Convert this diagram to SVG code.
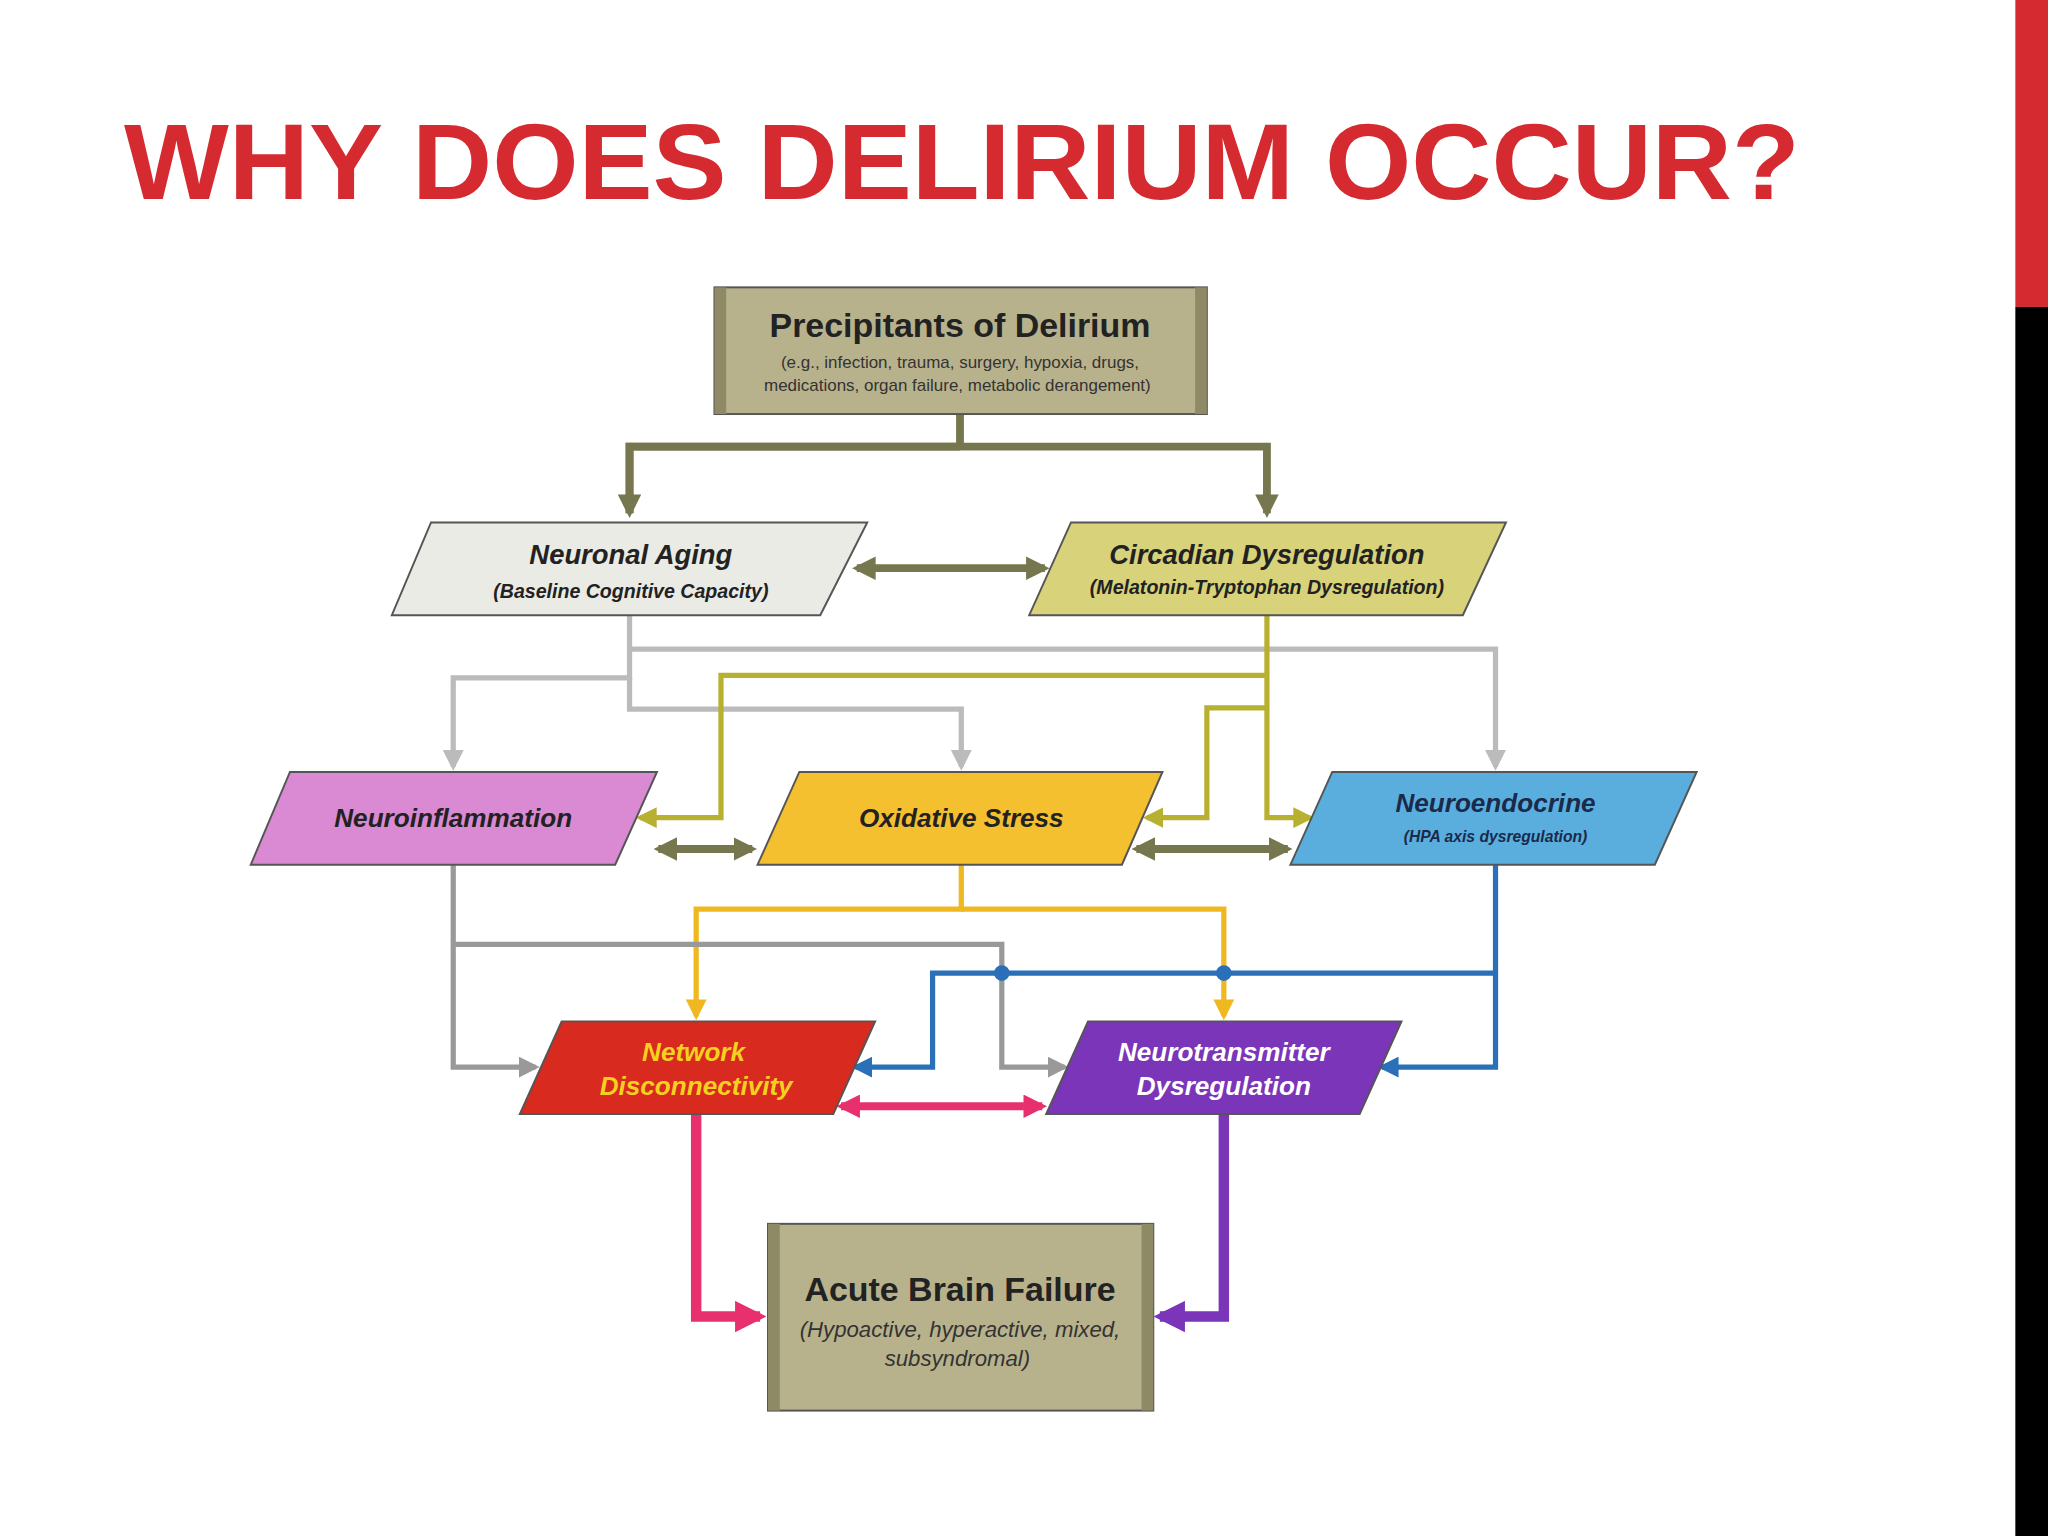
<svg xmlns="http://www.w3.org/2000/svg" width="2048" height="1536" viewBox="0 0 2048 1536">
<defs>
<style>
.t{font-family:"Liberation Sans",Arial,sans-serif;text-anchor:middle}
.b{font-weight:bold}.i{font-style:italic}
.n{stroke:#555;stroke-width:1.5}
.c{fill:none;stroke-linejoin:miter}
</style>
<marker id="ao" viewBox="0 0 10 10" refX="8" refY="5" markerWidth="3" markerHeight="3" orient="auto-start-reverse"><path d="M0,0L10,5L0,10z" fill="#77774f"/></marker>
<marker id="ag" viewBox="0 0 10 10" refX="8" refY="5" markerWidth="4" markerHeight="4" orient="auto"><path d="M0,0L10,5L0,10z" fill="#bbb"/></marker>
<marker id="ad" viewBox="0 0 10 10" refX="8" refY="5" markerWidth="4" markerHeight="4" orient="auto"><path d="M0,0L10,5L0,10z" fill="#999"/></marker>
<marker id="ay" viewBox="0 0 10 10" refX="8" refY="5" markerWidth="4" markerHeight="4" orient="auto"><path d="M0,0L10,5L0,10z" fill="#b8b030"/></marker>
<marker id="ar" viewBox="0 0 10 10" refX="8" refY="5" markerWidth="4" markerHeight="4" orient="auto"><path d="M0,0L10,5L0,10z" fill="#f0b820"/></marker>
<marker id="ab" viewBox="0 0 10 10" refX="8" refY="5" markerWidth="4" markerHeight="4" orient="auto"><path d="M0,0L10,5L0,10z" fill="#2a70b8"/></marker>
<marker id="ap" viewBox="0 0 10 10" refX="8" refY="5" markerWidth="3" markerHeight="3" orient="auto-start-reverse"><path d="M0,0L10,5L0,10z" fill="#e8306e"/></marker>
<marker id="av" viewBox="0 0 10 10" refX="8" refY="5" markerWidth="3" markerHeight="3" orient="auto"><path d="M0,0L10,5L0,10z" fill="#7a35b8"/></marker>
</defs>
<rect width="2048" height="1536" fill="#fff"/>
<g transform="scale(1.30612)">
<rect x="1543" y="0" width="25" height="235" fill="#d42a30"/>
<rect x="1543" y="235" width="25" height="941" fill="#000"/>
<text x="95" y="152" font-family="Liberation Sans,Arial,sans-serif" font-weight="bold" font-size="82" fill="#d42a30" textLength="1283" lengthAdjust="spacingAndGlyphs">WHY DOES DELIRIUM OCCUR?</text>

<g id="connectors">
<path class="c" d="M735,317V342H482V393M735,342H970V393" stroke="#77774f" stroke-width="6" marker-end="url(#ao)"/>
<path class="c" d="M735,342H482V393" stroke="#77774f" stroke-width="6" marker-end="url(#ao)"/>
<line x1="656" y1="435" x2="800" y2="435" stroke="#77774f" stroke-width="6" marker-start="url(#ao)" marker-end="url(#ao)"/>
<line x1="504" y1="650" x2="576" y2="650" stroke="#77774f" stroke-width="6" marker-start="url(#ao)" marker-end="url(#ao)"/>
<line x1="870" y1="650" x2="986" y2="650" stroke="#77774f" stroke-width="6" marker-start="url(#ao)" marker-end="url(#ao)"/>
<g stroke="#bbb" stroke-width="4" class="c">
<path d="M482,471V497H1145V587" marker-end="url(#ag)"/>
<path d="M482,497V519H347V587" marker-end="url(#ag)"/>
<path d="M482,519V543H736V587" marker-end="url(#ag)"/>
</g>
<g stroke="#b8b030" stroke-width="4" class="c">
<path d="M970,471V626H1003" marker-end="url(#ay)"/>
<path d="M970,517H552V626H490" marker-end="url(#ay)"/>
<path d="M970,542H924V626H878" marker-end="url(#ay)"/>
</g>
<g stroke="#f0b820" stroke-width="4" class="c">
<path d="M736,662V696H533V778" marker-end="url(#ar)"/>
<path d="M736,696H937V778" marker-end="url(#ar)"/>
</g>
<g stroke="#999" stroke-width="4" class="c">
<path d="M347,662V817H410" marker-end="url(#ad)"/>
<path d="M347,723H767V817H815" marker-end="url(#ad)"/>
</g>
<g stroke="#2a70b8" stroke-width="4" class="c">
<path d="M1145,662V817H1058" marker-end="url(#ab)"/>
<path d="M1145,745H714V817H655" marker-end="url(#ab)"/>
<circle cx="767" cy="745" r="4" fill="#2a70b8"/>
<circle cx="937" cy="745" r="4" fill="#2a70b8"/>
</g>
<line x1="644" y1="847" x2="798" y2="847" stroke="#e8306e" stroke-width="6" marker-start="url(#ap)" marker-end="url(#ap)"/>
<path class="c" d="M533,853V1008H582" stroke="#e8306e" stroke-width="8" marker-end="url(#ap)"/>
<path class="c" d="M937,853V1008H888" stroke="#7a35b8" stroke-width="8" marker-end="url(#av)"/>
</g>

<g id="precipitants">
<rect x="547" y="220" width="377" height="97" fill="#b8b28c" class="n"/>
<rect x="547" y="220" width="9" height="97" fill="#8e8a66"/><rect x="915" y="220" width="9" height="97" fill="#8e8a66"/>
<text x="735" y="258" class="t b" font-size="26" fill="#222">Precipitants of Delirium</text>
<text x="735" y="282" class="t" font-size="13" fill="#333">(e.g., infection, trauma, surgery, hypoxia, drugs,</text>
<text x="733" y="299" class="t" font-size="13" fill="#333">medications, organ failure, metabolic derangement)</text>
</g>
<g id="aging">
<polygon points="330,400 664,400 628,471 300,471" fill="#ebebe5" class="n"/>
<text x="483" y="432" class="t b i" font-size="21" fill="#222">Neuronal Aging</text>
<text x="483" y="458" class="t b i" font-size="15" fill="#222">(Baseline Cognitive Capacity)</text>
</g>
<g id="circadian">
<polygon points="820,400 1153,400 1120,471 788,471" fill="#d8d27a" class="n"/>
<text x="970" y="432" class="t b i" font-size="21" fill="#222">Circadian Dysregulation</text>
<text x="970" y="455" class="t b i" font-size="15" fill="#222">(Melatonin-Tryptophan Dysregulation)</text>
</g>
<g id="neuroinflammation">
<polygon points="222,591 503,591 471,662 192,662" fill="#d98ad2" class="n"/>
<text x="347" y="633" class="t b i" font-size="20" fill="#222">Neuroinflammation</text>
</g>
<g id="oxidative">
<polygon points="612,591 890,591 859,662 580,662" fill="#f5c030" class="n"/>
<text x="736" y="633" class="t b i" font-size="20" fill="#222">Oxidative Stress</text>
</g>
<g id="neuroendocrine">
<polygon points="1020,591 1299,591 1267,662 988,662" fill="#5aaede" class="n"/>
<text x="1145" y="622" class="t b i" font-size="20" fill="#1a2a4a">Neuroendocrine</text>
<text x="1145" y="645" class="t b i" font-size="12" fill="#1a2a4a">(HPA axis dysregulation)</text>
</g>
<g id="network">
<polygon points="430,782 670,782 638,853 398,853" fill="#d82a1e" class="n"/>
<text x="531" y="812" class="t b i" font-size="20" fill="#f5d020">Network</text>
<text x="533" y="838" class="t b i" font-size="20" fill="#f5d020">Disconnectivity</text>
</g>
<g id="neurotransmitter">
<polygon points="833,782 1073,782 1041,853 801,853" fill="#7a35b8" class="n"/>
<text x="937" y="812" class="t b i" font-size="20" fill="#fff">Neurotransmitter</text>
<text x="937" y="838" class="t b i" font-size="20" fill="#fff">Dysregulation</text>
</g>
<g id="acute">
<rect x="588" y="937" width="295" height="143" fill="#b8b28c" class="n"/>
<rect x="588" y="937" width="9" height="143" fill="#8e8a66"/><rect x="874" y="937" width="9" height="143" fill="#8e8a66"/>
<text x="735" y="996" class="t b" font-size="26" fill="#222">Acute Brain Failure</text>
<text x="735" y="1024" class="t i" font-size="17" fill="#333">(Hypoactive, hyperactive, mixed,</text>
<text x="733" y="1046" class="t i" font-size="17" fill="#333">subsyndromal)</text>
</g>
</g>
</svg>
